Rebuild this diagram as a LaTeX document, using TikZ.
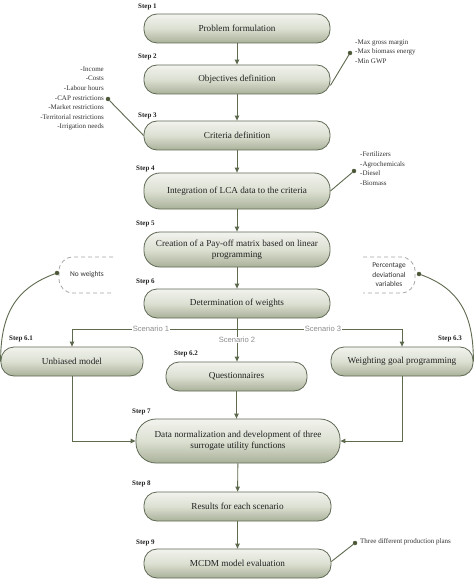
\documentclass[tikz,border=0pt]{standalone}
\usepackage{fontspec}
\setmainfont{Liberation Serif}
\newfontfamily\arialf{Liberation Sans}
\newfontfamily\calif{Carlito}
\usetikzlibrary{arrows.meta}
\definecolor{lineC}{HTML}{5E6A4E}
\definecolor{borderC}{HTML}{5F6A55}
\definecolor{topC}{HTML}{F2F3EE}
\definecolor{midC}{HTML}{DCE0D2}
\definecolor{botC}{HTML}{A9B199}
\definecolor{dotC}{HTML}{4B5636}
\definecolor{txtC}{HTML}{222222}
\definecolor{scenC}{HTML}{8E8E8E}
\definecolor{annC}{HTML}{333333}
\tikzset{
  box/.style={draw=borderC, line width=0.8bp, top color=topC, bottom color=botC, middle color=midC,
    rounded corners=13bp, minimum width=186bp, minimum height=29bp, inner sep=1bp,
    align=center, font=\fontsize{9.2bp}{11bp}\selectfont, text=txtC},
  steplbl/.style={anchor=west, font=\fontsize{7bp}{8bp}\selectfont\bfseries, text=txtC, inner sep=0pt},
  conn/.style={draw=lineC, line width=0.9bp},
  arr/.style={conn, -{Triangle[length=5bp,width=4.5bp]}},
  ann/.style={font=\fontsize{7bp}{9.6bp}\selectfont, text=annC, inner sep=0pt},
  scen/.style={font=\arialf\fontsize{7.6bp}{9bp}\selectfont, text=scenC, fill=white, inner sep=0.6bp},
  dotn/.style={circle, fill=dotC, draw=dotC, minimum size=4bp, inner sep=0pt},
  dashbox/.style={draw=gray!70, dashed, dash pattern=on 4bp off 3bp, line width=0.8bp, rounded corners=14bp},
  callt/.style={font=\calif\fontsize{7.4bp}{9.6bp}\selectfont, text=annC, align=center, inner sep=0pt},
}
\begin{document}
\begin{tikzpicture}[x=1bp,y=-1bp]
\useasboundingbox[fill=white] (0,0) rectangle (474,580);
% main boxes
\node[box] (b1) at (237,28.5) {Problem formulation};
\node[box] (b2) at (237,79.5) {Objectives definition};
\node[box] (b3) at (237,135.5) {Criteria definition};
\node[box, minimum height=36bp, rounded corners=16bp] (b4) at (237,191) {Integration of LCA data to the criteria};
\node[box, minimum height=35bp, rounded corners=16bp] (b5) at (237,249.5) {Creation of a Pay-off matrix based on linear\\programming};
\node[box] (b6) at (237,303.5) {Determination of weights};
\node[box, minimum width=142bp] (u) at (72,361.5) {Unbiased model};
\node[box, minimum width=141bp] (q) at (236.5,376.5) {Questionnaires};
\node[box, minimum width=142bp] (w) at (402,361.5) {Weighting goal programming};
\node[box, minimum width=204bp, minimum height=44bp, rounded corners=20bp] (b7) at (238,441) {Data normalization and development of three\\surrogate utility functions};
\node[box, minimum width=187bp] (b8) at (237.5,506.5) {Results for each scenario};
\node[box, minimum width=187bp] (b9) at (237.5,563.5) {MCDM model evaluation};
% step labels
\node[steplbl] (s1) at (138,7) {Step 1};
\node[steplbl] (s2) at (138,57) {Step 2};
\node[steplbl] (s3) at (138,116) {Step 3};
\node[steplbl] (s4) at (136,169) {Step 4};
\node[steplbl] (s5) at (136,224) {Step 5};
\node[steplbl] (s6) at (136,282) {Step 6};
\node[steplbl] (s61) at (9,339) {Step 6.1};
\node[steplbl] (s62) at (174,354) {Step 6.2};
\node[steplbl] (s63) at (438,339) {Step 6.3};
\node[steplbl] (s7) at (132,412) {Step 7};
\node[steplbl] (s8) at (132,484) {Step 8};
\node[steplbl] (s9) at (136,543) {Step 9};
% main arrows
\draw[arr] (b1) -- (b2);
\draw[arr] (b2) -- (b3);
\draw[arr] (b3) -- (b4);
\draw[arr] (b4) -- (b5);
\draw[arr] (b5) -- (b6);
\draw[arr] (b6.south) -- (b6.south |- q.north);
\coordinate (hl) at (72,329);
\coordinate (hr) at (402,329);
\draw[conn] (hl) -- (hr);
\draw[arr] (hl) -- (u.north);
\draw[arr] (hr) -- (w.north);
\node[scen] (sc1) at (151,329) {Scenario 1};
\node[scen] (sc3) at (323,329) {Scenario 3};
\node[scen] (sc2) at (237,340) {Scenario 2};
\draw[arr] (q.south) -- (q.south |- b7.north);
\draw[arr] (u.south) |- (b7.west);
\draw[arr] (w.south) |- (b7.east);
\draw[arr] (b7) -- (b8);
\draw[arr] (b8) -- (b9);
% annotations
\node[dotn] (d2) at (350,53) {};
\draw[conn] (d2) -- ([yshift=-6bp]b2.east);
\node[ann, anchor=west, align=left] (t2) at (355,51.5) {-Max gross margin\\-Max biomass energy\\-Min GWP};
\node[dotn] (d3) at (108,99) {};
\draw[conn] (d3) -- (b3.west);
\node[ann, anchor=east, align=right] (t3) at (104,98.5) {-Income\\-Costs\\-Labour hours\\-CAP restrictions\\-Market restrictions\\-Territorial restrictions\\-Irrigation needs};
\node[dotn] (d4) at (354,171) {};
\draw[conn] (d4) -- (b4.east);
\node[ann, anchor=west, align=left] (t4) at (360,168.5) {-Fertilizers\\-Agrochemicals\\-Diesel\\-Biomass};
\node[dotn] (d9) at (355,543) {};
\draw[conn] (d9) -- ([yshift=2bp]b9.east);
\node[ann, anchor=west] (t9) at (360,542) {Three different production plans};
% callouts
\draw[dashbox] (113,257) -- (59,257) -- (59,293) -- (113,293);
\node[callt] (nw) at (87,275) {No weights};
\draw[dashbox] (363,257) -- (415,257) -- (415,293) -- (363,293);
\node[callt] (pd) at (389,275) {Percentage\\deviational\\variables};
\node[dotn] (dn) at (57,273) {};
\node[dotn] (dp) at (419,274) {};
\draw[conn] (dn) to[out=200, in=90, looseness=1.1] (u.west);
\draw[conn] (dp) to[out=-20, in=90, looseness=1.1] (w.east);
\end{tikzpicture}
\end{document}
